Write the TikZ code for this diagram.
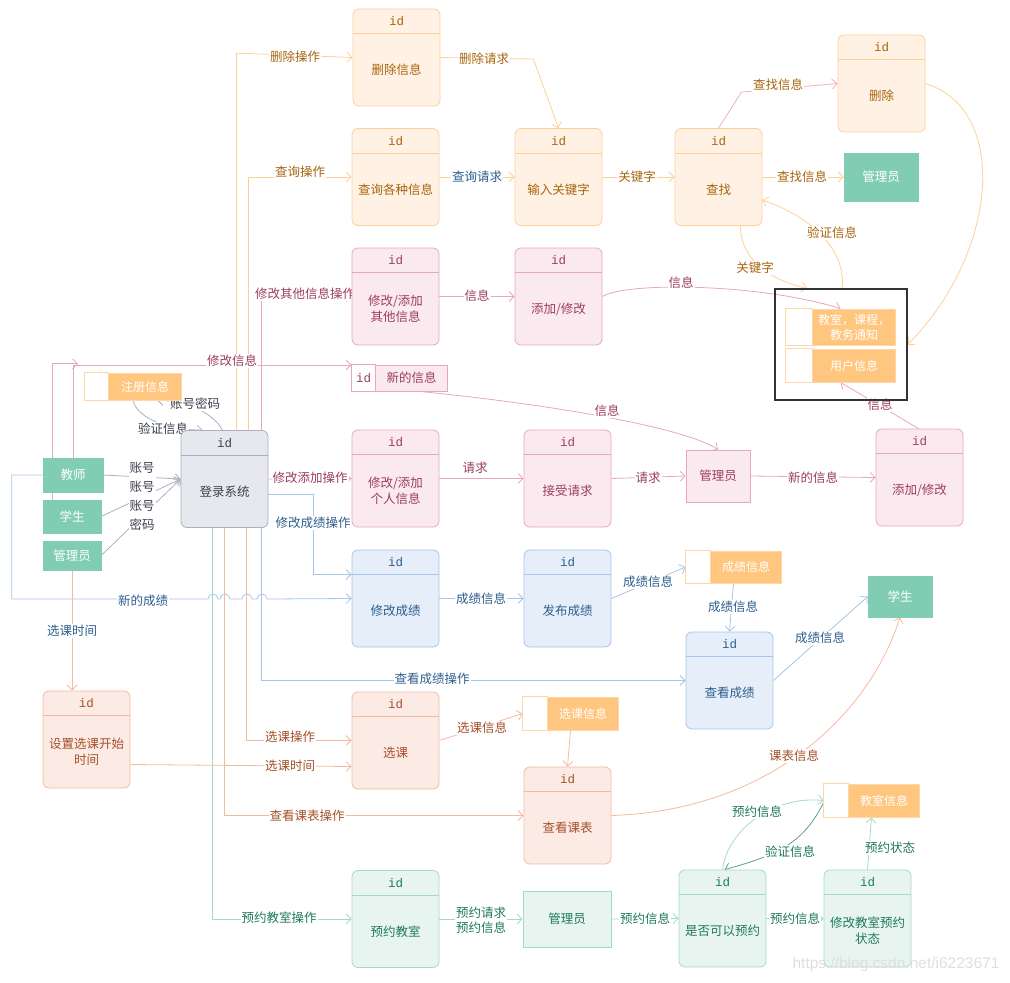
\documentclass[tikz,border=0pt]{standalone}
\usepackage{fontspec}
\setmainfont{Noto Sans CJK SC}
\newfontfamily\idfont{Liberation Mono}
\newfontfamily\wmfont{Liberation Sans}
\usetikzlibrary{arrows.meta,calc,backgrounds}
\definecolor{orL}{HTML}{FFCF99}\definecolor{orF}{HTML}{FFF2E4}\definecolor{orT}{HTML}{A8650E}
\definecolor{pkL}{HTML}{E8A7BE}\definecolor{pkF}{HTML}{FAEAF0}\definecolor{pkT}{HTML}{9C3D5E}
\definecolor{blL}{HTML}{A6C5E8}\definecolor{blF}{HTML}{E6EEF9}\definecolor{blT}{HTML}{2E5E8E}
\definecolor{saL}{HTML}{F6B8A0}\definecolor{saF}{HTML}{FCEBE4}\definecolor{saT}{HTML}{A5502A}
\definecolor{gnL}{HTML}{A3DBC6}\definecolor{gnF}{HTML}{E7F4EF}\definecolor{gnT}{HTML}{1F7A5A}
\definecolor{gnD}{HTML}{5E9F88}
\definecolor{gyL}{HTML}{A9B1C1}\definecolor{gyF}{HTML}{E6E8ED}\definecolor{gyT}{HTML}{3A4050}
\definecolor{act}{HTML}{80CDB4}
\definecolor{stF}{HTML}{FFC680}\definecolor{stL}{HTML}{FFD6A6}
\newcommand{\procnode}[5]{%
  \node[procbox, draw=#4L, fill=#4F] (#1) at (#2,#3) {};
  \draw[#4L, line width=0.8pt] ([yshift=-25pt]#1.north west) -- ([yshift=-25pt]#1.north east);
  \node[text=#4T, font=\idfont\fontsize{12.5}{14}\selectfont] (#1id) at ([yshift=-12.5pt]#1.north) {id};
  \node[text=#4T, align=center] (#1txt) at ([yshift=-12.5pt]#1.center) {#5};
}
\newcommand{\storenode}[8]{%
  \node[draw=stL, fill=stF, line width=0.8pt, minimum width=#4pt, minimum height=#5pt] (#1) at (#2,#3) {};
  \filldraw[draw=stL, fill=white, line width=0.8pt] (#1.north west) rectangle ([xshift=#6pt]#1.south west);
  \node[text=white, align=center, font=\fontsize{12}{15}\selectfont] (#1txt) at ([xshift=#7pt]#1.center) {#8};
}
\begin{document}
\begin{tikzpicture}[x=1pt,y=-1pt,
  every node/.style={font=\fontsize{12.5}{16}\selectfont, inner sep=0pt},
  procbox/.style={rounded corners=6pt, minimum width=87pt, minimum height=97pt, line width=0.8pt},
  actor/.style={fill=act, draw=act, text=white},
  conn/.style={line width=0.8pt, -{Straight Barb[length=5pt,width=10pt]}},
  cor/.style={conn, draw=orL}, cpk/.style={conn, draw=pkL}, cbl/.style={conn, draw=blL},
  csa/.style={conn, draw=saL}, cgn/.style={conn, draw=gnL}, cgy/.style={conn, draw=gyL},
  lab/.style={fill=white, inner sep=1pt}]
\useasboundingbox (0,0) rectangle (1010,983);
% ---------- nodes ----------
\procnode{del}{396.5}{57.5}{or}{删除信息}
\procnode{qry}{395.5}{177}{or}{查询各种信息}
\procnode{key}{558.5}{177}{or}{输入关键字}
\procnode{find}{718.5}{177}{or}{查找}
\procnode{delx}{881.5}{83.5}{or}{删除}
\node[actor, minimum width=74pt, minimum height=48pt] (adm1) at (881,177) {管理员};
\procnode{modo}{395.5}{296.5}{pk}{修改/添加\\其他信息}
\procnode{addm}{558.5}{296.5}{pk}{添加/修改}
\node[draw=pkL, fill=pkF, line width=0.8pt, minimum width=95pt, minimum height=26pt] (newinfo) at (399.5,378) {};
\filldraw[draw=pkL, fill=white, line width=0.8pt] (newinfo.north west) rectangle ([xshift=24pt]newinfo.south west);
\node[text=pkT, font=\idfont\fontsize{12.5}{14}\selectfont] (newinfoid) at ([xshift=12pt]newinfo.west) {id};
\node[text=pkT] (newinfotxt) at ([xshift=12pt]newinfo.center) {新的信息};
\procnode{modp}{395.5}{478.5}{pk}{修改/添加\\个人信息}
\procnode{acc}{567.5}{478.5}{pk}{接受请求}
\node[draw=pkL, fill=pkF, line width=0.8pt, minimum width=64pt, minimum height=52pt, text=pkT] (adm2) at (718,476) {管理员};
\procnode{addr}{919.5}{477.5}{pk}{添加/修改}
\node[draw=black!80, line width=1.2pt, minimum width=132pt, minimum height=111pt] (store) at (841,344.5) {};
\storenode{inner1}{840.5}{327}{109}{36}{27}{13.5}{教室，课程，\\教务通知}
\storenode{inner2}{840.5}{365.5}{109}{33}{27}{13.5}{用户信息}
\procnode{modg}{395.5}{598.5}{bl}{修改成绩}
\procnode{pub}{567.5}{598.5}{bl}{发布成绩}
\storenode{gstore}{733.5}{567}{95}{32}{25}{12.5}{成绩信息}
\procnode{viewg}{729.5}{680.5}{bl}{查看成绩}
\node[actor, minimum width=64pt, minimum height=41pt] (stu2) at (900,596.5) {学生};
\procnode{setc}{86.5}{739.5}{sa}{设置选课开始\\时间}
\procnode{sel}{395.5}{740.5}{sa}{选课}
\storenode{cstore}{570.5}{713.5}{95}{33}{25}{12.5}{选课信息}
\procnode{viewc}{567.5}{815.5}{sa}{查看课表}
\procnode{book}{395.5}{919}{gn}{预约教室}
\node[draw=gnL, fill=gnF, line width=0.8pt, minimum width=88pt, minimum height=56pt, text=gnT] (adm3) at (567,919) {管理员};
\procnode{chk}{722.5}{918.5}{gn}{是否可以预约}
\procnode{modr}{867.5}{918.5}{gn}{修改教室预约\\状态}
\storenode{rstore}{871.5}{800.5}{95}{33}{25}{12.5}{教室信息}
\procnode{login}{224.5}{479}{gy}{登录系统}
\node[actor, minimum width=60pt, minimum height=34pt] (tea) at (73,475) {教师};
\node[actor, minimum width=58pt, minimum height=33pt] (stu) at (72,516.5) {学生};
\node[actor, minimum width=58pt, minimum height=29pt] (adm) at (72,555.5) {管理员};
\storenode{reg}{133}{386.5}{96}{27}{24}{12}{注册信息}
\node[text=black!13, font=\wmfont\fontsize{15.5}{17}\selectfont] (wm) at (896,964) {https://blog.csdn.net/i6223671};
% ---------- connectors ----------
\begin{scope}[on background layer]
% orange
\draw[cor] ([xshift=56pt]login.north west) -- ++(0,-377) -- (del.west);
\draw[cor] ([xshift=68pt]login.north west) |- (qry.west);
\draw[cor] (del.east) -- ++(93,1.5) -- (key.north);
\draw[cor] (qry.east) -- (key.west);
\draw[cor] (key.east) -- (find.west);
\draw[conn, draw=pkL!70!orL] (find.north) -- ++(23,-36) -- (delx.west);
\draw[cor] (find.east) -- (adm1.west);
\draw[cor] ([xshift=22pt]find.south) .. controls +(0,35) and +(-35,-8) .. ([xshift=-34pt]store.north);
\draw[cor] ([xshift=1pt]store.north) .. controls +(5,-40) and +(45,15) .. ([yshift=-23pt]find.east);
\draw[cor] (delx.east) .. controls +(85,26) and +(90,-90) .. (store.east);
% pink
\draw[cpk] ([xshift=81pt]login.north west) |- (modo.west);
\draw[cpk] (modo.east) -- (addm.west);
\draw[cpk] (addm.east) .. controls +(25,-15) and +(-80,-25) .. (inner1.north);
\draw[cpk] ([xshift=-20pt]stu.north) -- ([xshift=-20pt,yshift=136pt]stu.north) -- ([xshift=6pt,yshift=136pt]stu.north);
\draw[cpk] (tea.north) |- ([yshift=13pt]newinfo.west);
\draw[cpk] ([xshift=20pt]newinfo.south) .. controls +(150,15) and +(-30,-20) .. (adm2.north);
\draw[cpk] (login.east) -- (modp.west);
\draw[cpk] (modp.east) -- (acc.west);
\draw[cpk] (acc.east) -- (adm2.west);
\draw[cpk] (adm2.east) -- (addr.west);
\draw[cpk] ([xshift=-1pt]addr.north) -- (inner2.south);
% grey
\draw[cgy] ([xshift=-2pt]login.north) .. controls +(-10,-18) and +(28,0) .. ([xshift=-24pt]reg.south east);
\draw[cgy] (reg.south) .. controls +(5,20) and +(-30,0) .. ([xshift=22pt]login.north west);
\draw[cgy] (tea.east) -- (login.west);
\draw[cgy] (stu.east) -- (login.west);
\draw[cgy] (adm.east) -- (login.west);
% blue
\draw[cbl] (tea.west) -- ++(-31,0) -- ++(0,124) -- (208,599)
  arc[start angle=180, end angle=360, radius=5] -- (220,599)
  arc[start angle=180, end angle=360, radius=5] -- (242,599)
  arc[start angle=180, end angle=360, radius=5] -- (257,599)
  arc[start angle=180, end angle=360, radius=5] -- (modg.west);
\draw[cbl] ([yshift=-15pt]login.east) -- ++(45,0) |- ([yshift=24pt]modg.west);
\draw[cbl] (modg.east) -- (pub.west);
\draw[cbl] (pub.east) -- (gstore.west);
\draw[cbl] (gstore.south) -- (viewg.north);
\draw[cbl] ([xshift=81pt]login.south west) |- (viewg.west);
\draw[cbl] (viewg.east) -- (stu2.west);
% salmon
\draw[csa] (adm.south) -- ([xshift=-14.5pt]setc.north);
\draw[csa] ([yshift=-25pt]setc.east) -- ([yshift=-26pt]sel.west);
\draw[csa] ([xshift=66pt]login.south west) |- (sel.west);
\draw[csa] ([xshift=44pt]login.south west) |- (viewc.west);
\draw[csa] (sel.east) -- (cstore.west);
\draw[csa] (cstore.south) -- (viewc.north);
\draw[csa] (viewc.east) .. controls +(159,-5) and +(-30,96) .. (stu2.south);
% green
\draw[cgn] ([xshift=32pt]login.south west) |- (book.west);
\draw[cgn] (book.east) -- (adm3.west);
\draw[cgn] (adm3.east) -- (chk.west);
\draw[cgn] (chk.north) .. controls +(5,-40) and +(-50,-5) .. (rstore.west);
\draw[conn, draw=gnD] ([yshift=-2pt]rstore.west) .. controls +(-20,40) and +(55,-15) .. ([xshift=2pt]chk.north);
\draw[cgn] (chk.east) -- (modr.west);
\draw[cgn] (modr.north) -- (rstore.south);
% ---------- labels ----------
\node[lab, text=orT] (l1) at (295,57) {删除操作};
\node[lab, text=orT] (l2) at (300,172) {查询操作};
\node[lab, text=pkT] (l3) at (305,294) {修改其他信息操作};
\node[lab, text=orT] (l4) at (484,59) {删除请求};
\node[lab, text=blT] (l5) at (477,177) {查询请求};
\node[lab, text=orT] (l6) at (637,177) {关键字};
\node[lab, text=orT] (l7) at (778,85) {查找信息};
\node[lab, text=orT] (l8) at (802,177) {查找信息};
\node[lab, text=orT] (l9) at (755,268) {关键字};
\node[lab, text=orT] (l10) at (832,233) {验证信息};
\node[lab, text=pkT] (l11) at (477,296) {信息};
\node[lab, text=pkT] (l12) at (681,283) {信息};
\node[lab, text=pkT] (l13) at (232,361) {修改信息};
\node[lab, text=pkT] (l14) at (607,411) {信息};
\node[lab, text=pkT] (l15) at (310,478) {修改添加操作};
\node[lab, text=pkT] (l16) at (475,468) {请求};
\node[lab, text=pkT] (l17) at (648,478) {请求};
\node[lab, text=pkT] (l18) at (813,478) {新的信息};
\node[lab, text=pkT] (l19) at (880,405) {信息};
\node[lab, text=gyT] (l20) at (195,404) {账号密码};
\node[lab, text=gyT] (l21) at (163,429) {验证信息};
\node[lab, text=gyT, align=center, font=\fontsize{12.5}{19}\selectfont] (l22) at (142,477) {账号\\密码};
\node[lab, text=gyT, align=center, font=\fontsize{12.5}{19}\selectfont] (l23) at (142,496) {账号\\密码};
\node[lab, text=gyT, align=center, font=\fontsize{12.5}{19}\selectfont] (l24) at (142,515) {账号\\密码};
\node[lab, text=blT] (l25) at (143,601) {新的成绩};
\node[lab, text=blT] (l26) at (313,523) {修改成绩操作};
\node[lab, text=blT] (l27) at (481,599) {成绩信息};
\node[lab, text=blT] (l28) at (648,582) {成绩信息};
\node[lab, text=blT] (l29) at (733,607) {成绩信息};
\node[lab, text=blT] (l30) at (432,679) {查看成绩操作};
\node[lab, text=blT] (l31) at (820,638) {成绩信息};
\node[lab, text=blT] (l32) at (72,631) {选课时间};
\node[lab, text=saT] (l33) at (290,766) {选课时间};
\node[lab, text=saT] (l34) at (290,737) {选课操作};
\node[lab, text=saT] (l35) at (307,816) {查看课表操作};
\node[lab, text=saT] (l36) at (482,728) {选课信息};
\node[lab, text=saT] (l37) at (794,756) {课表信息};
\node[lab, text=gnT] (l38) at (279,918) {预约教室操作};
\node[lab, text=gnT, align=center, font=\fontsize{12.5}{15}\selectfont] (l39) at (481,920) {预约请求\\预约信息};
\node[lab, text=gnT] (l40) at (645,919) {预约信息};
\node[lab, text=gnT] (l41) at (757,812) {预约信息};
\node[lab, text=gnT] (l42) at (790,852) {验证信息};
\node[lab, text=gnT] (l43) at (795,919) {预约信息};
\node[lab, text=gnT] (l44) at (890,848) {预约状态};
\end{scope}
\end{tikzpicture}
\end{document}
